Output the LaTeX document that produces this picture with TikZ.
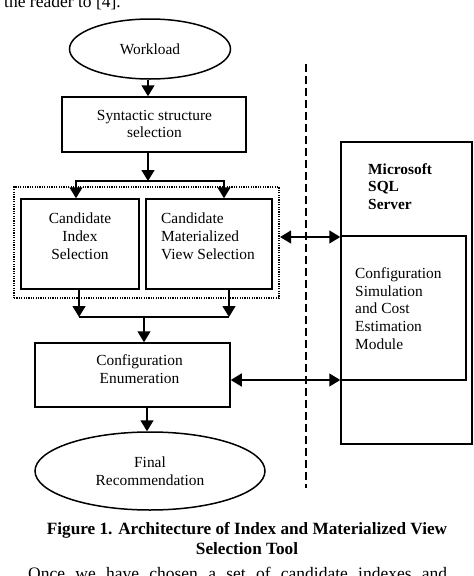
\documentclass[tikz,border=0pt]{standalone}
\usepackage{fontspec}
\setmainfont{Liberation Serif}
\usetikzlibrary{arrows.meta,positioning,shapes.geometric}
\newcommand{\txtfont}{\fontsize{15.4}{17.8}\selectfont}
\tikzset{
  >={Triangle[length=11pt,width=13pt]},
  box/.style={draw, line width=1.5pt, rectangle, inner sep=0pt},
  oval/.style={draw, line width=1.5pt, ellipse, inner sep=0pt, align=center, font=\txtfont},
  txt/.style={inner sep=0pt, align=center, font=\txtfont},
  conn/.style={->, line width=1.5pt},
  dconn/.style={<->, line width=1.5pt},
}

\begin{document}
\begin{tikzpicture}[x=1pt, y=-1pt]
  \tikzset{
    sepline/.style={line width=1.6pt, dash pattern=on 8pt off 4pt},
    grpbox/.style={draw, line width=2.2pt, dash pattern=on 1.2pt off 1.2pt, inner sep=0pt},
    captxt/.style={inner sep=0pt, align=center, font=\fontsize{17.2}{20}\selectfont\bfseries},
    body/.style={inner sep=0pt, font=\fontsize{17.5}{20}\selectfont}
  }
  \useasboundingbox (0,0) rectangle (474,576);

  % page text cut by the figure
  \node[body, anchor=base west] (prev) at (4,7) {the reader to [4].};
  \node[body, anchor=base west] (next) at (28,579.5) {\makebox[419pt][s]{Once we have chosen a set of candidate indexes and}};

  % tool side
  \node[oval, minimum width=161, minimum height=60] (wl) at (150,49) {Workload};
  \node[box, minimum width=184, minimum height=55] (syn) at (154,124.5) {};
  \node[txt] (syntxt) at (154.5,124) {Syntactic structure\\selection};

  \node[grpbox, minimum width=265, minimum height=111] (grp) at (146.5,242.5) {};
  \node[box, minimum width=118, minimum height=90] (cis) at (80,244) {};
  \node[box, minimum width=126, minimum height=90] (cmv) at (209,244) {};
  \node[txt] (cistxt) at (80,236.5) {Candidate\\Index\\Selection};
  \node[txt, align=left] (cmvtxt) at (208,236) {Candidate\\Materialized\\View Selection};

  \node[box, minimum width=195, minimum height=64] (cfg) at (132.5,375) {};
  \node[txt] (cfgtxt) at (139.5,369.5) {Configuration\\Enumeration};
  \node[oval, minimum width=230, minimum height=78] (fin) at (150,471) {Final\\Recommendation};

  % server side
  \coordinate (septop) at (306,64);
  \coordinate (sepbot) at (306,488);
  \draw[sepline] (septop) -- (sepbot);
  \node[box, minimum width=131, minimum height=302] (sql) at (406.5,293) {};
  \node[box, minimum width=125, minimum height=144] (mod) at (403.5,308) {};
  \node[txt, align=left, anchor=west, font=\txtfont\bfseries] (sqltxt) at (368,186.5) {Microsoft\\SQL\\Server};
  \node[txt, align=left, anchor=west] (modtxt) at (355,308.5) {Configuration\\Simulation\\and Cost\\Estimation\\Module};

  % connectors
  \coordinate (br1) at (148,181);
  \coordinate (br2) at (144,317);
  \draw[conn] (br1 |- syn.south) -- (br1);
  \draw[conn] (br1) -| ([xshift=-4]cis.north);
  \draw[conn] (br1) -| ([xshift=15]cmv.north);
  \draw[conn] ([xshift=-1]cis.south) -- ([xshift=-1]cis.south |- br2);
  \draw[conn] ([xshift=20]cmv.south) -- ([xshift=20]cmv.south |- br2);
  \draw[line width=1.5pt] ([xshift=-1]cis.south |- br2) -- ([xshift=20]cmv.south |- br2);
  \draw[conn] (br2) -- (br2 |- cfg.north);
  \draw[conn] ([xshift=14.5]cfg.south) -- ([xshift=14.5]cfg.south |- fin.north);
  \draw[conn] ([xshift=-2]wl.south) -- ([xshift=-2]wl.south |- syn.north);
  \draw[dconn] ([yshift=5.5]grp.east) -- ([yshift=5.5]grp.east -| mod.west);
  \draw[dconn] ([yshift=-5]cfg.east) -- ([yshift=-5]cfg.east -| mod.west);

  % caption
  \node[captxt] (cap1) at (247,539) {Figure 1. Architecture of Index and Materialized View\\Selection Tool};
\end{tikzpicture}
\end{document}
